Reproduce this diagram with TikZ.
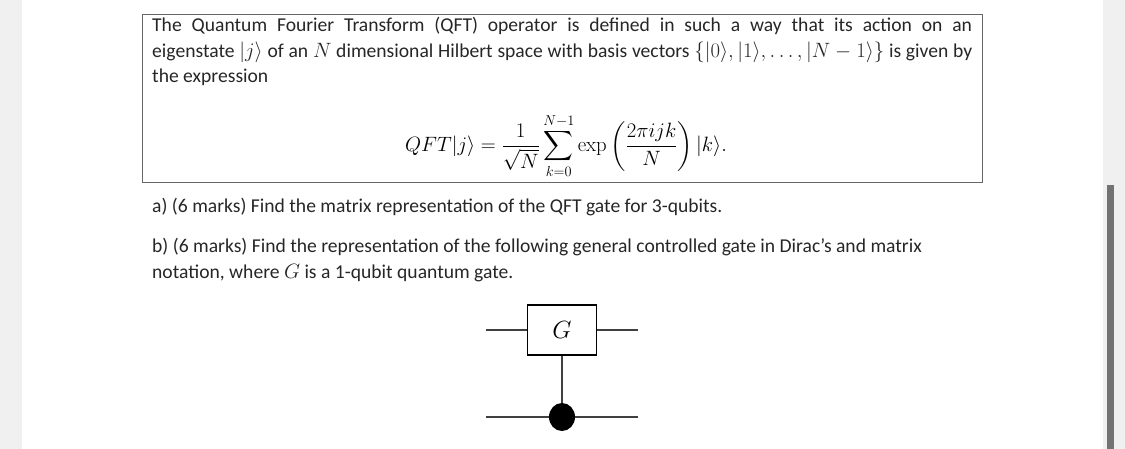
\documentclass[tikz,border=0pt]{standalone}
\usepackage{amsmath}
\usepackage[no-math]{fontspec}
\setmainfont{Carlito}
\begin{document}
\begin{tikzpicture}[x=1pt,y=-1pt,
  txt/.style={anchor=north west,inner sep=0pt,font=\fontsize{19.6}{25.5}\selectfont,text=black!85},
  wire/.style={line width=2.4pt,black!75},
  gate/.style={draw,line width=1.4pt,minimum width=69pt,minimum height=50pt,inner sep=0pt,font=\fontsize{25}{25}\selectfont}]
\useasboundingbox (0,0) rectangle (1125,449);
\fill[black!6] (0,0) rectangle (22,449);
\fill[black!6] (1103,0) rectangle (1125,449);
\fill[black!55] (1107,185) rectangle (1114,449);
\draw[black!60,line width=0.8pt] (142,14) rectangle (982,182);
\node[txt,text width=820pt,align=justify] (intro) at (152,17) {The Quantum Fourier Transform (QFT) operator is defined in such a way that its action on an\linebreak eigenstate $|j\rangle$ of an $N$ dimensional Hilbert space with basis vectors $\{|0\rangle,|1\rangle,\dots,|N-1\rangle\}$ is given by\linebreak the expression};
\node[inner sep=0pt,font=\fontsize{20.5}{24}\selectfont] (eq) at (566,146) {$\displaystyle QFT|j\rangle=\frac{1}{\sqrt{N}}\sum_{k=0}^{N-1}\exp\left(\frac{2\pi ijk}{N}\right)|k\rangle.$};
\node[txt] (qa) at (152,198) {a) (6 marks) Find the matrix representation of the QFT gate for 3-qubits.};
\node[txt] (qb) at (152,238) {b) (6 marks) Find the representation of the following general controlled gate in Dirac's and matrix};
\node[txt] (qb2) at (152,264) {notation, where $G$ is a 1-qubit quantum gate.};
\node[gate] (G) at (562,330) {$G$};
\coordinate (l1) at (486,330); \coordinate (r1) at (638,330);
\coordinate (l2) at (486,417); \coordinate (r2) at (638,417);
\coordinate (c) at (562,417);
\draw[wire] (l1) -- (G.west); \draw[wire] (G.east) -- (r1);
\draw[wire] (l2) -- (r2);
\draw[line width=1.2pt,black!75] (G.south) -- (c);
\fill[black] (c) ellipse (13pt and 14pt);
\end{tikzpicture}
\end{document}
